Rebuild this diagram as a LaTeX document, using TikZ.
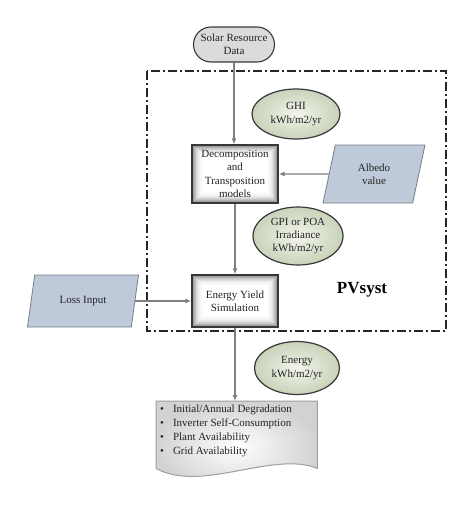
\documentclass[tikz,border=0pt]{standalone}
\usepackage{fontspec}
\setmainfont{Liberation Serif}
\usetikzlibrary{shapes.geometric,shapes.misc,arrows.meta}
\definecolor{txt}{RGB}{35,35,35}
\definecolor{arr}{RGB}{128,128,128}
\definecolor{edge}{RGB}{55,55,55}
\definecolor{ellin}{RGB}{243,245,236}
\definecolor{ellout}{RGB}{200,210,185}
\definecolor{para}{RGB}{190,202,218}
\definecolor{paraedge}{RGB}{120,125,135}
\begin{document}
\begin{tikzpicture}[x=1pt,y=-1pt,
 font=\fontsize{11}{13.3}\selectfont, text=txt,
 terminal/.style={rounded rectangle, draw=edge, line width=1.1pt, fill=gray!28, minimum width=85pt, minimum height=35pt, align=center, inner sep=2pt},
 procbox/.style={rectangle, draw=edge, line width=1.4pt, fill=white, minimum width=86pt, align=center, inner sep=1pt,
   path picture={\foreach \i/\c in {1/48,2/38,3/30,4/23,5/17,6/12,7/8,8/5,9/3}
     \draw[black!\c, line width=1.05pt] ([shift={(\i pt,-\i pt)}]path picture bounding box.north west) rectangle ([shift={(-\i pt,\i pt)}]path picture bounding box.south east);}},
 dataell/.style={ellipse, draw=edge, line width=1.2pt, inner color=ellin, outer color=ellout, align=center, inner sep=0pt},
 datain/.style={trapezium, trapezium left angle=66, trapezium right angle=114, trapezium stretches body, draw=paraedge, line width=0.8pt, fill=para, align=center},
 flow/.style={draw=arr, line width=1.1pt, -{Latex[length=6pt,width=5pt]}},
 frame/.style={draw=black!85, line width=1.2pt, dash pattern=on 9pt off 3pt on 2pt off 3pt}
]
\useasboundingbox (0,0) rectangle (474,506);
\draw[frame] (147,71) rectangle (446,331);
\node[terminal] (solar) at (234,44.5) {Solar Resource\\Data};
\node[dataell, minimum width=88pt, minimum height=50pt] (ghi) at (296,114) {GHI\\kWh/m2/yr};
\node[procbox, minimum height=58pt] (decomp) at (235,174) {Decomposition\\and\\Transposition\\models};
\node[datain, minimum width=102pt, minimum height=58pt] (albedo) at (374,174) {Albedo\\value};
\node[dataell, minimum width=90pt, minimum height=58pt] (gpi) at (298,236) {GPI or POA\\Irradiance\\kWh/m2/yr};
\node[procbox, minimum height=52pt] (yield) at (235,301) {Energy Yield\\Simulation};
\node[datain, minimum width=111pt, minimum height=52pt] (loss) at (83,301) {Loss Input};
\node[font=\fontsize{17}{20}\selectfont\bfseries, text=black] (pvsyst) at (362,290) {PVsyst};
\node[dataell, minimum width=85pt, minimum height=53pt] (energy) at (297,368) {Energy\\kWh/m2/yr};
\node[minimum width=161pt, minimum height=67pt, anchor=north west, inner sep=0pt] (doc) at (156,401) {};
\path[draw=gray!75, line width=1pt, inner color=white, outer color=gray!35]
  (doc.north west) -- (doc.north east) -- (doc.south east)
  .. controls +(-45,-18) and +(45,25) .. (doc.south west) -- cycle;
\node[anchor=west, inner sep=0pt, font=\fontsize{11}{14}\selectfont] (items) at (160,430.5)
  {\begin{tabular}{@{}l@{\hspace{9pt}}l@{}}•&Initial/Annual Degradation\\•&Inverter Self-Consumption\\•&Plant Availability\\•&Grid Availability\end{tabular}};
\draw[flow] (solar.south) -- (solar.south |- decomp.north);
\draw[flow] (albedo.west) -- (decomp.east);
\draw[flow] (decomp) -- (yield);
\draw[flow] (loss.east) -- (loss.east -| yield.west);
\draw[flow] (yield.south) -- (yield.south |- doc.north);
\end{tikzpicture}
\end{document}
